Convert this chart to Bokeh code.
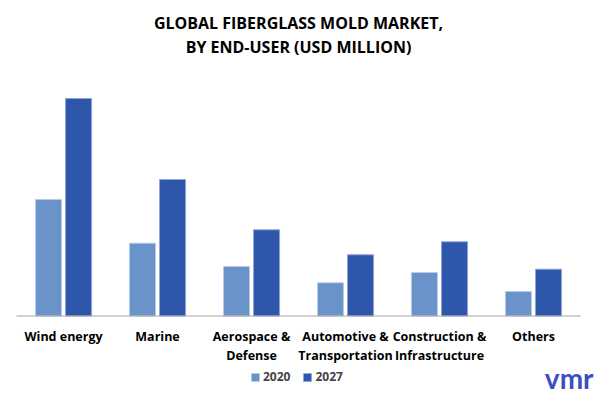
from bokeh.plotting import figure
from bokeh.models import ColumnDataSource, Legend, LegendItem, Range1d, FactorRange
from bokeh.transform import dodge
from bokeh.core.properties import value
from bokeh.embed import file_html
from bokeh.resources import INLINE

categories = ["Wind energy", "Marine", "Aerospace & Defense", "Automotive & Transportation",
              "Construction & Infrastructure", "Others"]
tick_labels = ["Wind energy", "Marine", "Aerospace &\nDefense", "Automotive &\nTransportation",
               "Construction &\nInfrastructure", "Others"]
values_2020 = [116.5, 72.8, 49.5, 33.2, 43.5, 24.5]
values_2027 = [217.5, 136.5, 86.2, 61.2, 74.2, 46.8]
series = ["2020", "2027"]
colors = ["#6a93c9", "#2e56ab"]
title_lines = ["GLOBAL FIBERGLASS MOLD MARKET,", "BY END-USER (USD MILLION)"]

W, H = 595, 398
BASE = 315.5          # pixel row of the category axis
FONT = value("Open Sans")

src = ColumnDataSource(dict(cat=categories, lab=tick_labels, v2020=values_2020, v2027=values_2027))

xr = FactorRange(factors=categories, range_padding=0.16, range_padding_units="absolute")
p = figure(x_range=xr, y_range=Range1d(BASE - H, BASE), width=W, height=H,
           output_backend="svg", toolbar_location=None, title=None,
           min_border_left=1, min_border_right=0, min_border_top=0, min_border_bottom=0)
p.axis.visible = False
p.grid.visible = False
p.outline_line_color = None
p.background_fill_color = "white"
p.border_fill_color = "white"

r1 = p.vbar(x=dodge("cat", -0.16, range=p.x_range), top="v2020", width=0.277, source=src,
            fill_color=colors[0], line_color="#b8cbe6", line_width=1)
r2 = p.vbar(x=dodge("cat", 0.16, range=p.x_range), top="v2027", width=0.277, source=src,
            fill_color=colors[1], line_color="#8fa6d6", line_width=1)

# category axis line
asrc = ColumnDataSource(dict(c0=[categories[0]], c1=[categories[-1]], y=[0]))
p.segment(x0=dodge("c0", -0.5, range=p.x_range), x1=dodge("c1", 0.5, range=p.x_range),
          y0="y", y1="y", source=asrc, line_color="#a6a6a6", line_width=1)

# category labels
p.text(x="cat", y=-12, text="lab", source=src, text_font=FONT, text_font_size="12.5px",
       text_font_style="bold", text_color="#000000", text_align="center",
       text_baseline="top", text_line_height=1.1)

# title
tsrc = ColumnDataSource(dict(cat=[categories[2], categories[2]], txt=title_lines,
                             y=[BASE - 22, BASE - 46]))
p.text(x=dodge("cat", 0.5, range=p.x_range), y="y", text="txt", source=tsrc, text_font=FONT,
       text_font_size="16px", text_font_style="bold", text_color="#000000",
       text_align="center", text_baseline="middle")

# logo
lsrc = ColumnDataSource(dict(cat=[categories[5]], txt=["vmr"], y=[BASE - 377]))
p.text(x=dodge("cat", 0.38, range=p.x_range), y="y", text="txt", source=lsrc,
       text_font=value("Lato"), text_font_size="28px", text_font_style="bold",
       text_color="#3b4fc2", text_align="center", text_baseline="middle")

legend = Legend(items=[LegendItem(label=series[0], renderers=[r1]),
                       LegendItem(label=series[1], renderers=[r2])],
                orientation="horizontal", location=(249, 13),
                label_text_font="Open Sans", label_text_font_size="12px",
                label_text_font_style="bold",
                glyph_width=10, glyph_height=10, label_standoff=3, spacing=12,
                border_line_color=None, background_fill_alpha=0, padding=0, margin=0,
                label_height=14)
p.add_layout(legend, "center")

open("out.html", "w").write(file_html(p, INLINE))
